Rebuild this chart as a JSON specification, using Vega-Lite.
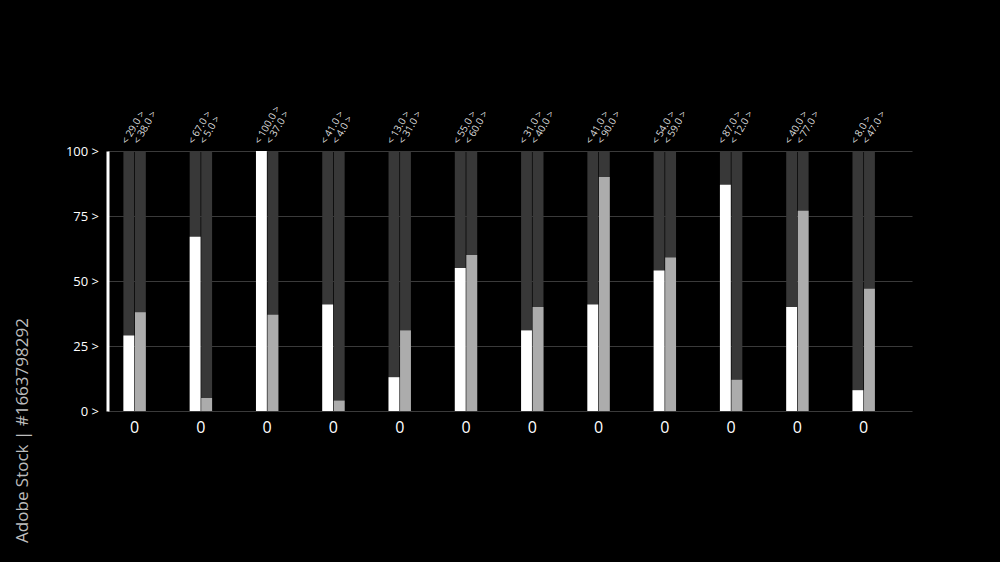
{
  "$schema": "https://vega.github.io/schema/vega-lite/v6.json",
  "width": 804.5,
  "height": 260,
  "autosize": "none",
  "padding": {"left": 107.5, "top": 151, "right": 88, "bottom": 151},
  "background": "#000000",
  "data": {
    "values": [
      {"group": 1, "series": "A", "value": 29, "label": "< 29.0 >"},
      {"group": 1, "series": "B", "value": 38, "label": "< 38.0 >"},
      {"group": 2, "series": "A", "value": 67, "label": "< 67.0 >"},
      {"group": 2, "series": "B", "value": 5, "label": "< 5.0 >"},
      {"group": 3, "series": "A", "value": 100, "label": "< 100.0 >"},
      {"group": 3, "series": "B", "value": 37, "label": "< 37.0 >"},
      {"group": 4, "series": "A", "value": 41, "label": "< 41.0 >"},
      {"group": 4, "series": "B", "value": 4, "label": "< 4.0 >"},
      {"group": 5, "series": "A", "value": 13, "label": "< 13.0 >"},
      {"group": 5, "series": "B", "value": 31, "label": "< 31.0 >"},
      {"group": 6, "series": "A", "value": 55, "label": "< 55.0 >"},
      {"group": 6, "series": "B", "value": 60, "label": "< 60.0 >"},
      {"group": 7, "series": "A", "value": 31, "label": "< 31.0 >"},
      {"group": 7, "series": "B", "value": 40, "label": "< 40.0 >"},
      {"group": 8, "series": "A", "value": 41, "label": "< 41.0 >"},
      {"group": 8, "series": "B", "value": 90, "label": "< 90.0 >"},
      {"group": 9, "series": "A", "value": 54, "label": "< 54.0 >"},
      {"group": 9, "series": "B", "value": 59, "label": "< 59.0 >"},
      {"group": 10, "series": "A", "value": 87, "label": "< 87.0 >"},
      {"group": 10, "series": "B", "value": 12, "label": "< 12.0 >"},
      {"group": 11, "series": "A", "value": 40, "label": "< 40.0 >"},
      {"group": 11, "series": "B", "value": 77, "label": "< 77.0 >"},
      {"group": 12, "series": "A", "value": 8, "label": "< 8.0 >"},
      {"group": 12, "series": "B", "value": 47, "label": "< 47.0 >"}
    ]
  },
  "encoding": {
    "x": {
      "field": "group",
      "type": "ordinal",
      "title": null,
      "scale": {"paddingInner": 0.662, "paddingOuter": 0.4, "align": 0.3, "round": false}
    },
    "xOffset": {"field": "series", "type": "nominal", "scale": {"paddingInner": 0.06, "paddingOuter": 0}}
  },
  "layer": [
    {
      "mark": {"type": "bar", "color": "#383838"},
      "encoding": {
        "y": {"datum": 100, "type": "quantitative", "title": "Adobe Stock | #1663798292", "scale": {"domain": [0, 100], "nice": false}, "axis": {"values": [0, 25, 50, 75, 100], "grid": true, "labelExpr": "datum.label + ' >'"}}
      }
    },
    {
      "mark": {"type": "bar"},
      "encoding": {
        "y": {"field": "value", "type": "quantitative", "title": "Adobe Stock | #1663798292", "scale": {"domain": [0, 100], "nice": false}, "axis": {"values": [0, 25, 50, 75, 100], "grid": true, "labelExpr": "datum.label + ' >'"}},
        "color": {"field": "series", "type": "nominal", "scale": {"domain": ["A", "B"], "range": ["#ffffff", "#acacac"]}, "legend": null}
      }
    },
    {
      "mark": {"type": "text", "angle": -60, "align": "left", "baseline": "bottom", "fontSize": 10, "fill": "#dddddd"},
      "encoding": {
        "y": {"datum": 102, "type": "quantitative", "title": "Adobe Stock | #1663798292", "scale": {"domain": [0, 100], "nice": false}, "axis": {"values": [0, 25, 50, 75, 100], "grid": true, "labelExpr": "datum.label + ' >'"}},
        "text": {"field": "label"}
      }
    }
  ],
  "config": {
    "view": {"stroke": null},
    "font": "Open Sans",
    "axisY": {
      "domainColor": "#ffffff",
      "domainWidth": 3,
      "gridColor": "#3a3a3a",
      "gridWidth": 1,
      "ticks": false,
      "labelColor": "#ffffff",
      "labelFontSize": 13,
      "labelPadding": 9,
      "titleColor": "#bdbdbd",
      "titleFontSize": 17,
      "titleFontWeight": "normal",
      "titleX": -85,
      "titleY": 279,
      "titleAngle": -90,
      "titleAlign": "center",
      "titleBaseline": "middle"
    },
    "axisX": {
      "labelExpr": "'0'",
      "domain": false,
      "ticks": false,
      "grid": false,
      "labelAngle": 0,
      "labelColor": "#ffffff",
      "labelFontSize": 16,
      "labelPadding": 8
    }
  }
}
